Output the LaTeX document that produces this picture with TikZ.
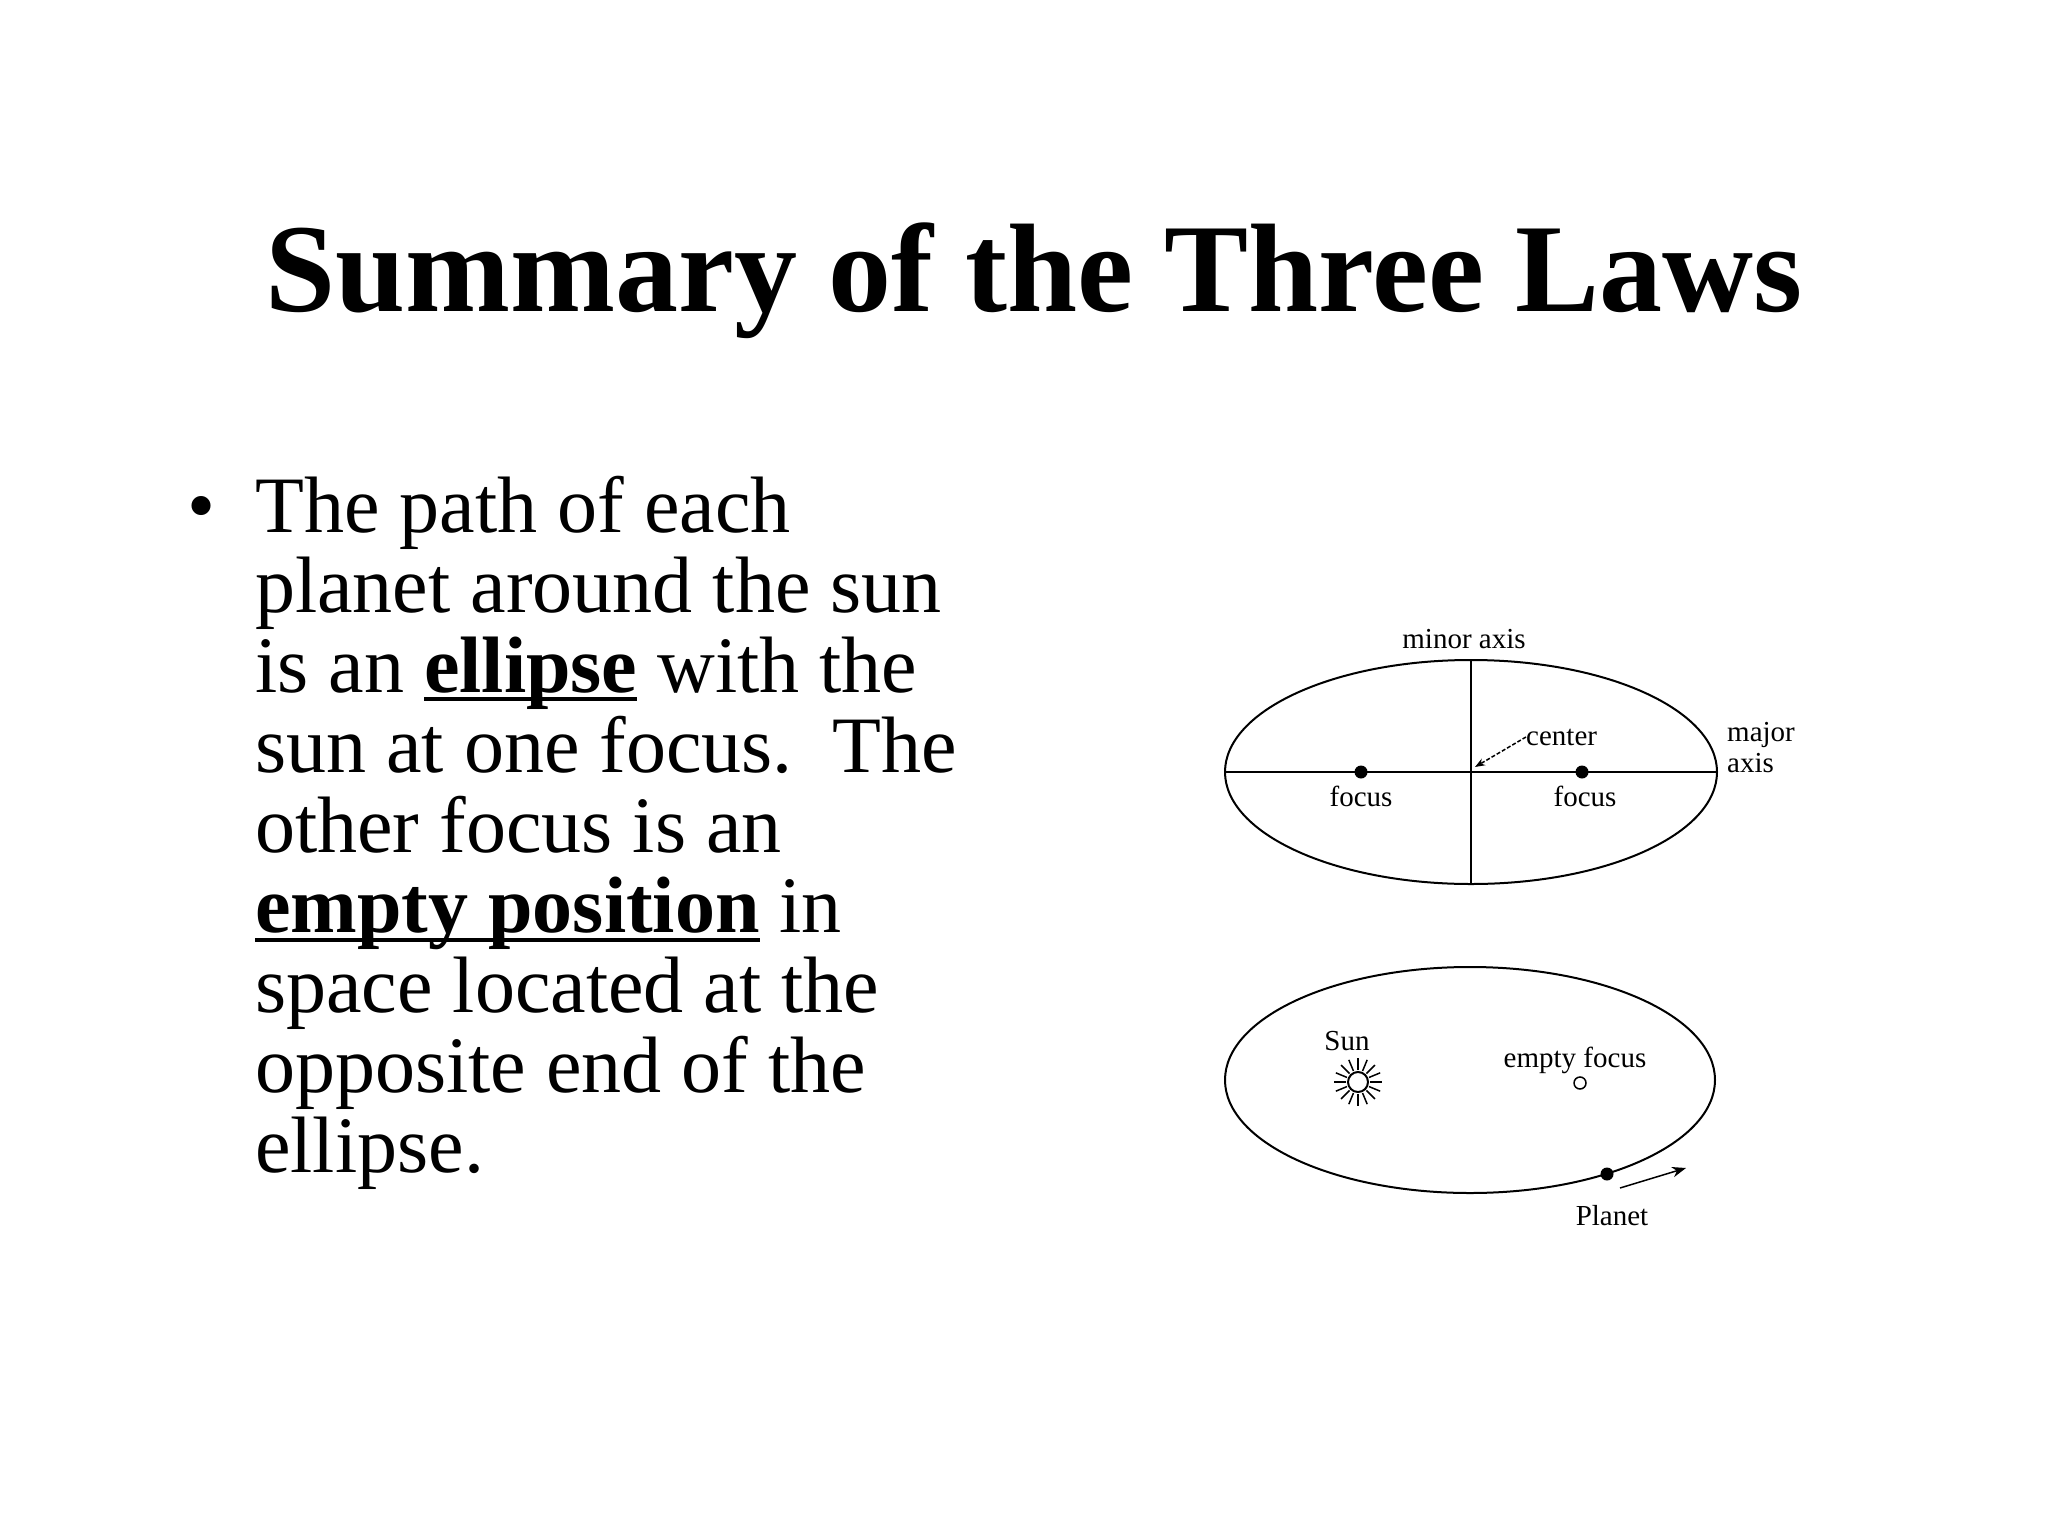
\documentclass[tikz,border=0pt]{standalone}
\usepackage{fontspec}
\setmainfont{Liberation Serif}
\usetikzlibrary{arrows.meta,calc}
\newcommand{\myul}[1]{\setbox0\hbox{#1}\rlap{\rule[-9pt]{\wd0}{4pt}}\box0\relax}
\begin{document}
\begin{tikzpicture}[x=1pt,y=-1pt,
  lbl/.style={font=\fontsize{29}{31}\selectfont, inner sep=0pt},
  thin/.style={line width=2pt},
  dot/.style={circle, fill, inner sep=0pt, minimum size=13pt}]
\useasboundingbox (0,0) rectangle (2048,1536);
\fill[white] (0,0) rectangle (2048,1536);
\node[anchor=base, inner sep=0pt, font=\fontsize{126}{130}\selectfont\bfseries] (title) at (1034,311) {Summary of the Three Laws};
\node[anchor=base, inner sep=0pt, font=\fontsize{80}{80}\selectfont] (bullet) at (202,532) {•};
\node[anchor=base west, inner sep=0pt, font=\fontsize{80}{80}\selectfont] (body) at (255,532) {\begin{tabular}[t]{@{}l@{}}The path of each\\
planet around the sun\\
is an \myul{\textbf{ellipse}} with the\\
sun at one focus.\ \ The\\
other focus is an\\
\myul{\textbf{empty position}} in\\
space located at the\\
opposite end of the\\
ellipse.\end{tabular}};
% top ellipse
\coordinate (c1) at (1471,772);
\draw[thin] (c1) ellipse [x radius=246, y radius=112];
\coordinate (L1) at (1225,772); \coordinate (R1) at (1717,772);
\coordinate (T1) at (1471,660); \coordinate (B1) at (1471,884);
\draw[thin] (L1) -- (R1);
\draw[thin] (T1) -- (B1);
\node[dot] (f1) at (1361,772) {};
\node[dot] (f2) at (1582,772) {};
\node[lbl, anchor=base] (fl1) at (1361,806) {focus};
\node[lbl, anchor=base] (fl2) at (1585,806) {focus};
\node[lbl, anchor=base] (minor) at (1464,648) {minor axis};
\node[lbl, anchor=base west] (center) at (1526,745) {center};
\draw[line width=1.5pt, dash pattern=on 4pt off 2pt, -{Stealth[length=10pt]}] (center.west) -- (1475,767);
\node[lbl, anchor=base west, align=left] (major) at (1727,772) {major\\axis};
% bottom ellipse
\coordinate (c2) at (1470,1080);
\draw[thin] (c2) ellipse [x radius=245, y radius=113];
\coordinate (sun) at (1358,1082);
\draw[line width=2pt] (sun) circle (10);
\foreach \a in {0,22.5,...,337.5}{
  \draw[line width=1.5pt] ($(sun)+(\a:12)$) -- ($(sun)+(\a:24)$);
}
\node[lbl, anchor=base] (sunl) at (1347,1050) {Sun};
\node[lbl, anchor=base] (efl) at (1575,1067) {empty focus};
\node[circle, draw, line width=1.5pt, inner sep=0pt, minimum size=12pt] (ef) at (1580,1083) {};
\node[dot] (planet) at (1607,1174) {};
\coordinate (a0) at (1620,1188); \coordinate (a1) at (1686,1168);
\draw[line width=1.5pt, -{Stealth[length=14pt]}] (a0) -- (a1);
\node[lbl, anchor=base] (pl) at (1612,1225) {Planet};
\end{tikzpicture}
\end{document}
